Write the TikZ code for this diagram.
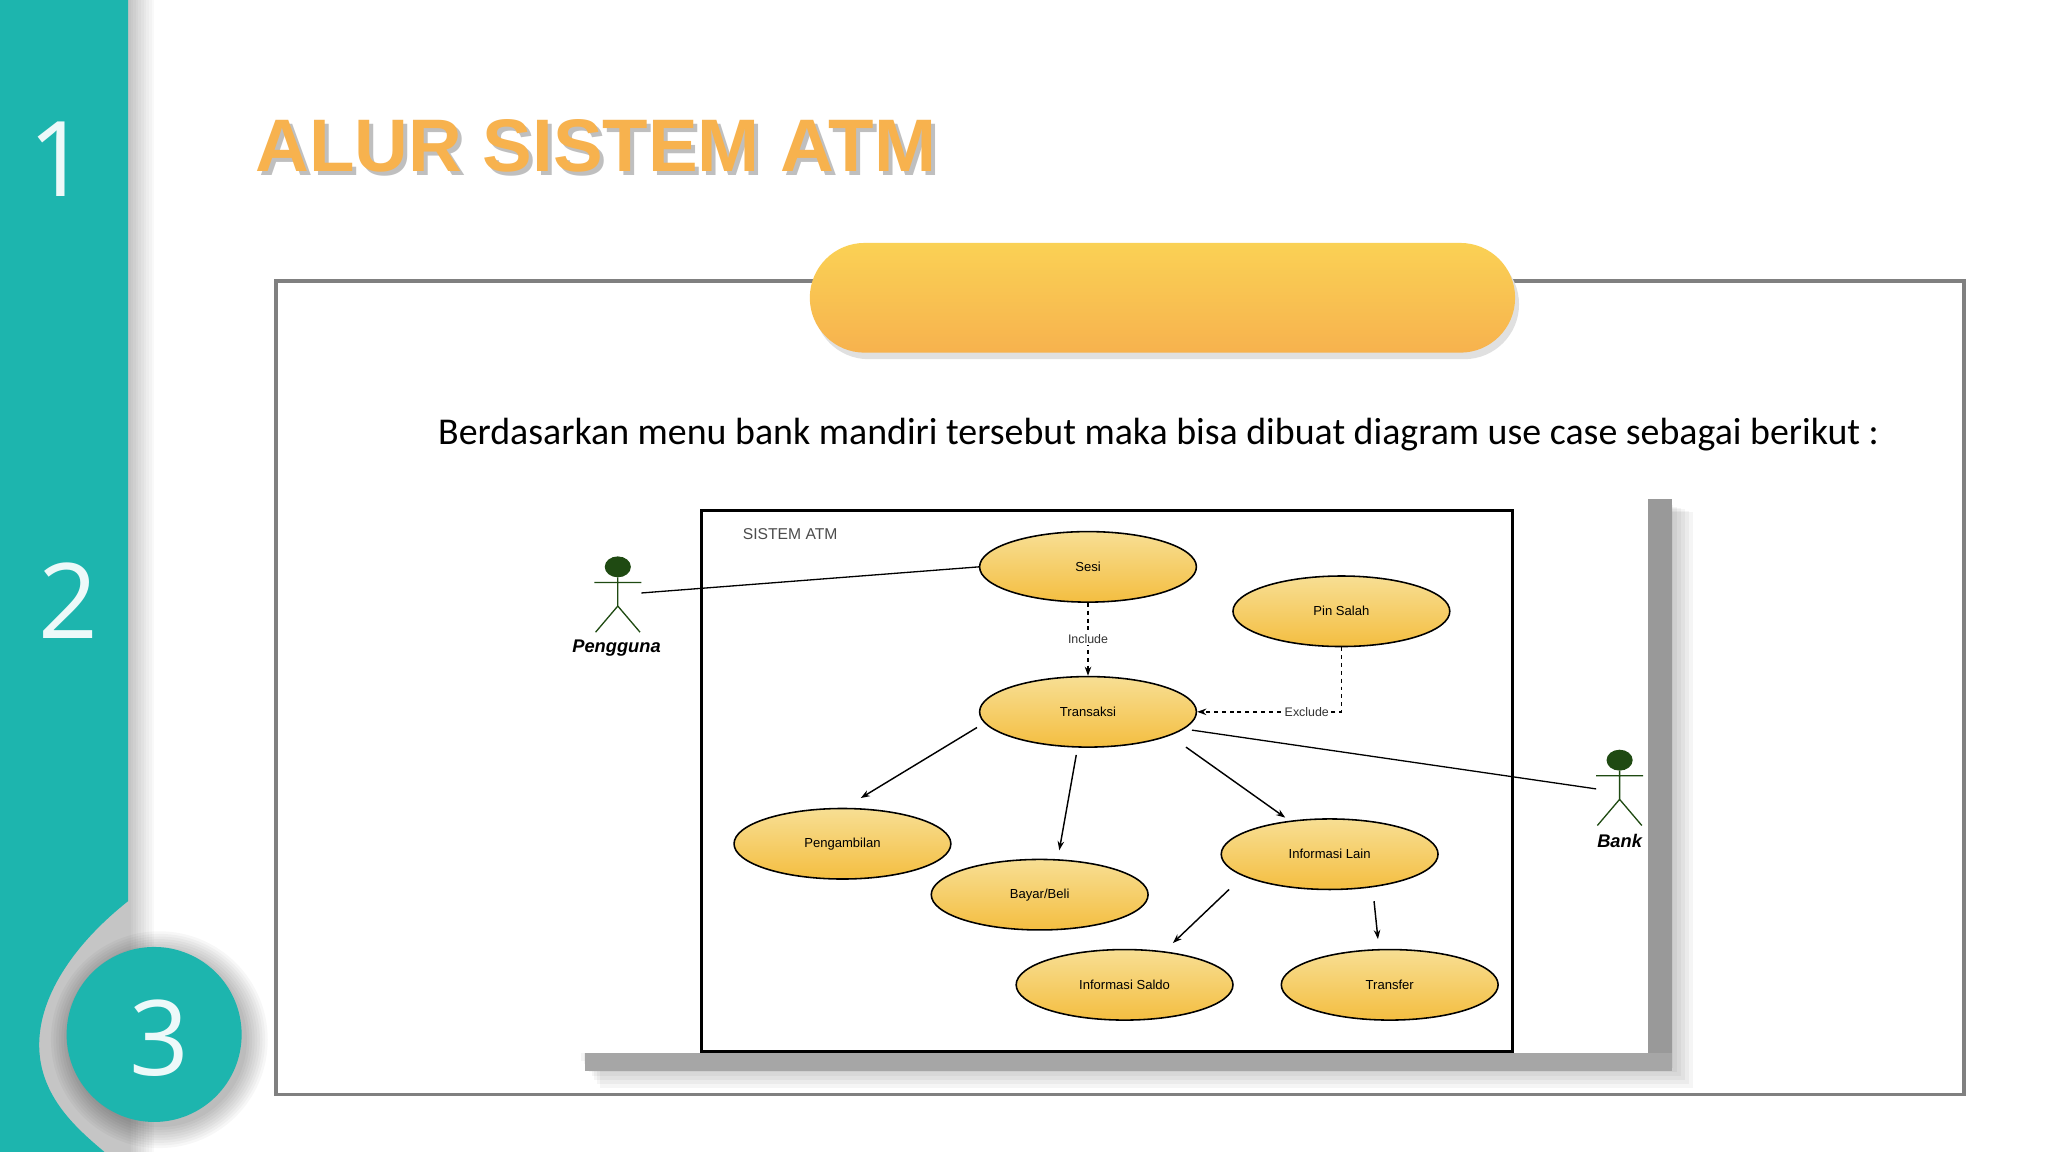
\documentclass[tikz,border=0pt]{standalone}
\usepackage{fontspec}
\setmainfont{Carlito}
\newfontfamily\arialf{Liberation Sans}
\newfontfamily\numf{Open Sans}
\usetikzlibrary{arrows.meta,shadows,shapes.geometric}
\definecolor{teal1}{HTML}{1DB5AE}
\definecolor{orng}{HTML}{F7B24E}
\definecolor{ellf}{HTML}{F2C94C}
\definecolor{actg}{HTML}{1F4A12}
\tikzset{
 uc/.style={ellipse,draw=black,line width=1.2pt,top color=ellf!60!white,bottom color=ellf!85!orange,minimum width=166pt,minimum height=54pt,font=\arialf\fontsize{10}{12}\selectfont,inner sep=0pt},
 arr/.style={-{Stealth[length=7pt,width=5pt]},line width=1.1pt},
 act/.style={actg,line width=1pt},
 lbl/.style={fill=white,inner sep=1pt,font=\arialf\fontsize{9.5}{11}\selectfont,text=black!80},
 bignum/.style={text=white!92!teal1,font=\numf\fontsize{80}{90}\selectfont}
}
\begin{document}
\begin{tikzpicture}[x=1pt,y=-1pt]
\useasboundingbox (0,0) rectangle (1568,882);
\fill[white] (0,0) rectangle (1568,882);
% shadow of band
\foreach \i in {0,...,9}{\fill[black,opacity=0.025] (0,0) rectangle (100+2*\i,882);}
\fill[teal1] (0,0) -- (98,0) -- (98,690) .. controls (60,720) and (30,760) .. (30,800) .. controls (30,840) and (60,865) .. (80,882) -- (0,882) -- cycle;
\node[bignum] (n1) at (45,122) {1};
\node[bignum] (n2) at (52,460) {2};
\foreach \i in {0,...,8}{\fill[black,opacity=0.03] (122,796) circle (67+2*\i);}
\fill[teal1] (118,792) circle (67);
\node[bignum] (n3) at (122,795) {3};
% title
\node[font=\arialf\bfseries\fontsize{57}{60}\selectfont,text=black!25,anchor=west] at (195,115) {ALUR SISTEM ATM};
\node[font=\arialf\bfseries\fontsize{57}{60}\selectfont,text=orng,anchor=west] (title) at (192,112) {ALUR SISTEM ATM};
% frame
\draw[black!50,line width=3pt] (211,215) rectangle (1504,838);
\fill[black!12,rounded corners=42pt] (623,191) rectangle (1163,275);
\shade[top color=orng!70!yellow!85!white,bottom color=orng,rounded corners=42pt] (620,186) rectangle (1160,270);
\node[font=\fontsize{29}{32}\selectfont] (txt) at (887,333) {Berdasarkan menu bank mandiri tersebut maka bisa dibuat diagram use case sebagai berikut :};
% image panel
\foreach \i in {0,...,7}{\fill[black,opacity=0.04] (445+2*\i,385+\i) rectangle (1275+3*\i,812+3*\i);}
\fill[black!40] (1262,382) rectangle (1280,808);
\fill[black!35] (448,806) rectangle (1280,820);
\fill[white] (430,372) rectangle (1262,806);
\draw[black,line width=2.2pt] (537,391) rectangle (1158,805);
\node[font=\arialf\fontsize{12}{14}\selectfont,text=black!70] (sys) at (605,409) {SISTEM ATM};
\node[uc] (sesi) at (833,434) {Sesi};
\node[uc] (pin) at (1027,468) {Pin Salah};
\node[uc] (tr) at (833,545) {Transaksi};
\node[uc] (peng) at (645,646) {Pengambilan};
\node[uc] (bayar) at (796,685) {Bayar/Beli};
\node[uc] (il) at (1018,654) {Informasi Lain};
\node[uc] (is) at (861,754) {Informasi Saldo};
\node[uc] (tf) at (1064,754) {Transfer};
% actors
\fill[actg] (473,434) ellipse (10 and 8);
\draw[act] (473,442) -- (473,464) (455,446) -- (491,446) (473,464) -- (456,484) (473,464) -- (490,484);
\coordinate (pu) at (491,454);
\node[font=\arialf\bfseries\itshape\fontsize{14}{16}\selectfont] (pl) at (472,496) {Pengguna};
\fill[actg] (1240,582) ellipse (10 and 8);
\draw[act] (1240,590) -- (1240,612) (1222,594) -- (1258,594) (1240,612) -- (1223,632) (1240,612) -- (1257,632);
\coordinate (bu) at (1222,604);
\node[font=\arialf\bfseries\itshape\fontsize{14}{16}\selectfont] (bl) at (1240,644) {Bank};
% connectors
\draw[line width=1pt] (pu) -- (sesi.west);
\draw[line width=1pt] (tr.east) ++(-4,14) -- (bu);
\draw[arr,dashed] (sesi.south) -- node[lbl]{Include} (tr.north);
\draw[arr,dashed] (pin.south) |- node[lbl,pos=0.62]{Exclude} (tr.east);
\draw[arr] (748,557) -- (659,611);
\draw[arr] (824,578) -- (811,651);
\draw[arr] (908,572) -- (984,626);
\draw[arr] (941,681) -- (898,722);
\draw[arr] (1052,690) -- (1055,719);
\end{tikzpicture}
\end{document}
